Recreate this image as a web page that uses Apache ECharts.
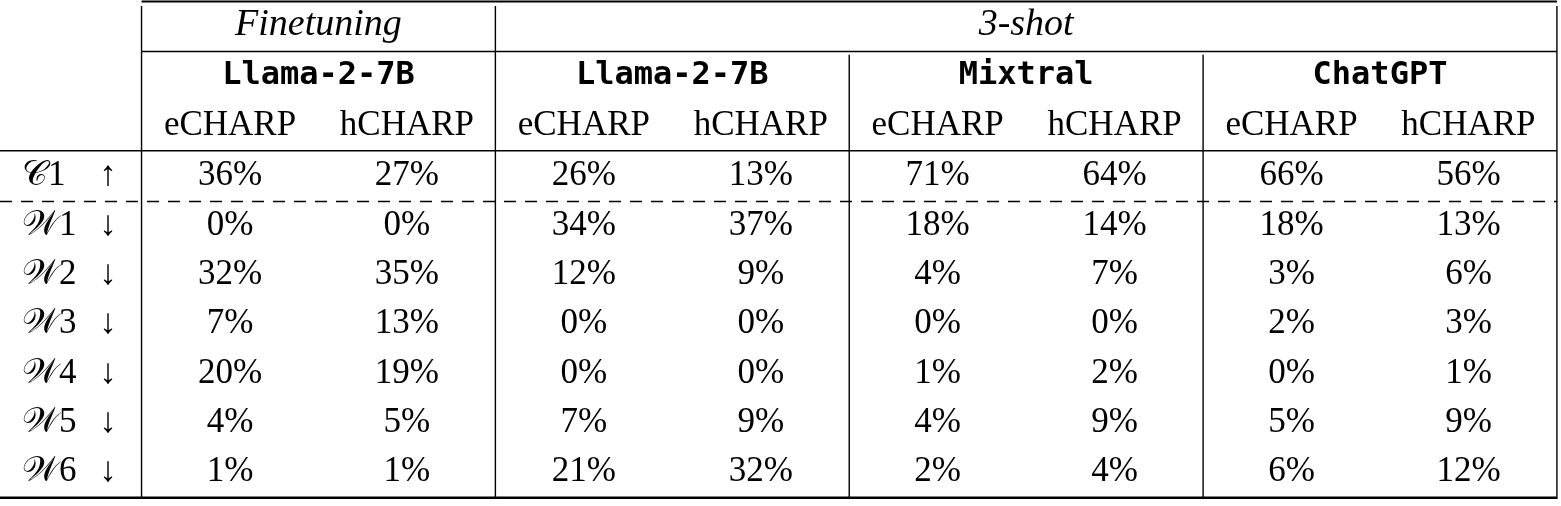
<!DOCTYPE html>
<html><head><meta charset="utf-8">
<script src="https://cdn.jsdelivr.net/npm/echarts@6/dist/echarts.min.js"></script>
<style>html,body{margin:0;padding:0;background:#fff}#c{width:1561px;height:506px}</style>
</head><body><div id="c"></div>
<script>
// ---- table content ----
const groupHeaders = ['Finetuning', '3-shot'];
const groupSpans = [1, 3];            // number of models in each group
const modelHeaders = ['Llama-2-7B', 'Llama-2-7B', 'Mixtral', 'ChatGPT'];
const variantHeaders = ['eCHARP', 'hCHARP'];
const metricLabels = ['\u{1D49E}1', '\u{1D4B2}1', '\u{1D4B2}2', '\u{1D4B2}3', '\u{1D4B2}4', '\u{1D4B2}5', '\u{1D4B2}6'];
const metricArrows = ['\u2191', '\u2193', '\u2193', '\u2193', '\u2193', '\u2193', '\u2193'];
const c1 = [36, 27, 26, 13, 71, 64, 66, 56];
const w1 = [0, 0, 34, 37, 18, 14, 18, 13];
const w2 = [32, 35, 12, 9, 4, 7, 3, 6];
const w3 = [7, 13, 0, 0, 0, 0, 2, 3];
const w4 = [20, 19, 0, 0, 1, 2, 0, 1];
const w5 = [4, 5, 7, 9, 4, 9, 5, 9];
const w6 = [1, 1, 21, 32, 2, 4, 6, 12];
const bodyRows = [w1, w2, w3, w4, w5, w6];

// ---- styles ----
const SERIF = '"Liberation Serif", "DejaVu Serif", serif';
const F_NUM = '35px ' + SERIF;
const F_ITAL = 'italic 38px ' + SERIF;
const F_MONO = 'bold 32px "DejaVu Sans Mono", monospace';
const F_LABEL = '35px ' + SERIF;
const nVar = variantHeaders.length;
const nCols = modelHeaders.length * nVar;
const LABEL_W = 0.8;

// ---- build cells (x = column position, y = row index) ----
const topCells = [];
let start = 0;
groupHeaders.forEach((g, i) => {
  const span = groupSpans[i] * nVar;
  topCells.push({ value: [start + span / 2, 0], text: g, font: F_ITAL, kind: 'c' });
  start += span;
});
modelHeaders.forEach((m, i) => topCells.push({ value: [i * nVar + nVar / 2, 1], text: m, font: F_MONO, kind: 'c' }));
for (let c = 0; c < nCols; c++) topCells.push({ value: [c + 0.5, 2], text: variantHeaders[c % nVar], font: F_NUM, kind: 'c' });
topCells.push({ value: [-LABEL_W, 3], text: metricLabels[0], arrow: metricArrows[0], kind: 'label' });
c1.forEach((v, c) => topCells.push({ value: [c + 0.5, 3], text: v + '%', font: F_NUM, kind: 'c' }));

const bodyCells = [];
bodyRows.forEach((row, r) => {
  bodyCells.push({ value: [-LABEL_W, r], text: metricLabels[r + 1], arrow: metricArrows[r + 1], kind: 'label' });
  row.forEach((v, c) => bodyCells.push({ value: [c + 0.5, r], text: v + '%', font: F_NUM, kind: 'c' }));
});

function txt(x, y, text, font, align) {
  return { type: 'text', x: x, y: y, style: { text: text, font: font, fill: '#000', align: align, verticalAlign: 'middle', textAlign: align, textVerticalAlign: 'middle' } };
}
function cellRenderer(cells) {
  return function (params, api) {
    const cell = cells[params.dataIndex];
    const p = api.coord([api.value(0), api.value(1)]);
    if (cell.kind === 'label') {
      return { type: 'group', children: [
        txt(p[0] + 22, p[1], cell.text, F_LABEL, 'left'),
        txt(p[0] + 108, p[1], cell.arrow, F_LABEL, 'center')
      ] };
    }
    return txt(p[0], p[1], cell.text, cell.font, 'center');
  };
}

// column boundaries derived from structure
const groupBounds = [0];
groupSpans.forEach(s => groupBounds.push(groupBounds[groupBounds.length - 1] + s * nVar));
const modelBounds = [];
for (let i = 0; i <= modelHeaders.length; i++) modelBounds.push(i * nVar);

function line(a, b, lw, dash) {
  return { type: 'line', shape: { x1: a[0], y1: a[1], x2: b[0], y2: b[1] }, style: { stroke: '#000', lineWidth: lw, lineDash: dash || null } };
}
const BODY_MAX = bodyRows.length - 0.45;
function topRules(params, api) {
  const ch = [];
  const h = (x0, x1, y, dy, lw, dash) => { const a = api.coord([x0, y]), b = api.coord([x1, y]); ch.push(line([a[0], a[1] + dy], [b[0], b[1] + dy], lw, dash)); };
  h(0, nCols, -0.5, 1.5, 2);
  h(0, nCols, 0.5, 1.2, 1.4);
  h(-LABEL_W, nCols, 2.5, 0, 1.4);
  h(-LABEL_W, nCols, 3.5, 0.5, 1.4, [12, 9]);
  modelBounds.forEach(b => {
    const isGroup = groupBounds.indexOf(b) >= 0;
    const a = api.coord([b, isGroup ? -0.5 : 0.5]);
    const e = api.coord([b, 3.5]);
    ch.push(line([a[0], a[1] + (isGroup ? 6 : 4.5)], e, 1.4));
  });
  return { type: 'group', children: ch };
}
function bodyRules(params, api) {
  const ch = [];
  modelBounds.forEach(b => ch.push(line(api.coord([b, -0.5]), api.coord([b, BODY_MAX]), 1.4)));
  const a = api.coord([-LABEL_W, BODY_MAX]), e = api.coord([nCols, BODY_MAX]);
  ch.push(line([a[0], a[1] - 1.2], [e[0], e[1] - 1.2], 2.6));
  return { type: 'group', children: ch };
}

const chart = echarts.init(document.getElementById('c'));
const xMax = nCols + 0.023;
chart.setOption({
  animation: false,
  backgroundColor: '#fff',
  grid: [
    { left: 0, right: 0, top: 0, height: 201 },
    { left: 0, right: 0, top: 201, bottom: 7 }
  ],
  xAxis: [
    { type: 'value', gridIndex: 0, min: -LABEL_W, max: xMax, show: false },
    { type: 'value', gridIndex: 1, min: -LABEL_W, max: xMax, show: false }
  ],
  yAxis: [
    { type: 'value', gridIndex: 0, min: -0.5, max: 3.5, inverse: true, show: false },
    { type: 'value', gridIndex: 1, min: -0.5, max: BODY_MAX, inverse: true, show: false }
  ],
  series: [
    { type: 'custom', xAxisIndex: 0, yAxisIndex: 0, clip: false, silent: true, data: [[0, 0]], renderItem: topRules },
    { type: 'custom', xAxisIndex: 1, yAxisIndex: 1, clip: false, silent: true, data: [[0, 0]], renderItem: bodyRules },
    { type: 'custom', xAxisIndex: 0, yAxisIndex: 0, clip: false, silent: true, data: topCells.map(c => c.value), renderItem: cellRenderer(topCells) },
    { type: 'custom', xAxisIndex: 1, yAxisIndex: 1, clip: false, silent: true, data: bodyCells.map(c => c.value), renderItem: cellRenderer(bodyCells) }
  ]
});
</script></body></html>
